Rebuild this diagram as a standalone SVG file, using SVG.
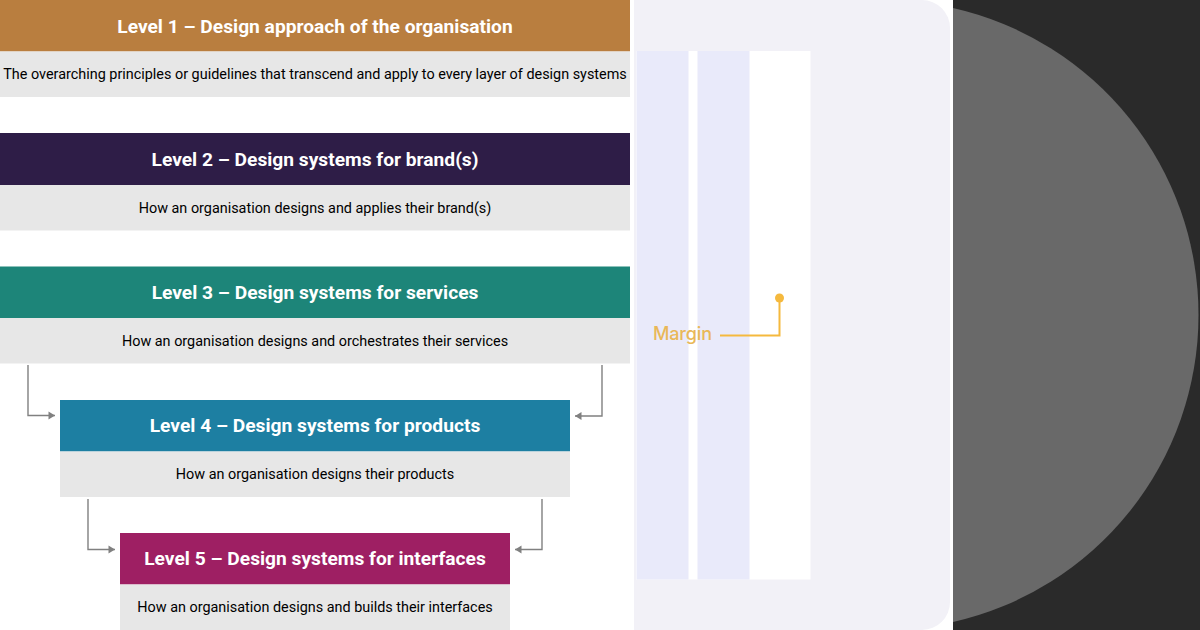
<svg xmlns="http://www.w3.org/2000/svg" width="1200" height="630" viewBox="0 0 1200 630">
<defs>
<marker id="arr" markerUnits="userSpaceOnUse" markerWidth="9" markerHeight="10" refX="7" refY="5" orient="auto"><path d="M0.500 1L7 5L0.500 9Z" fill="#808080"/></marker>
</defs>
<style>
.h{font:700 19.2px Roboto,"Liberation Sans",sans-serif;fill:#fff;text-anchor:middle}
.b{font:400 14.4px Roboto,"Liberation Sans",sans-serif;fill:#000;text-anchor:middle}
.s{fill:#e7e7e7}
.c{fill:none;stroke:#808080;stroke-width:1.4;marker-end:url(#arr)}
</style>
<rect width="1200" height="630" fill="#fff"/>
<g id="backdrop">
<rect x="953" y="0" width="247" height="630" fill="#2a2a2a"/>
<path d="M953 8A314.700 314.700 0 0 1 953 622Z" fill="#696969"/>
<path d="M634 0H922A28 28 0 0 1 950 28V602A28 28 0 0 1 922 630H634Z" fill="#f2f1f7"/>
<rect x="636" y="51" width="174.500" height="528.500" fill="#fff"/>
<rect x="636.500" y="51" width="52" height="528.500" fill="#e9eafa"/>
<rect x="697.500" y="51" width="52" height="528.500" fill="#e9eafa"/>
</g>
<g id="margin-callout">
<text x="653" y="339.500" font-family="Inter,'Liberation Sans',sans-serif" font-size="18" font-weight="500" letter-spacing="-0.15" fill="#e9b858">Margin</text>
<path d="M720 335.500H779.500V298" fill="none" stroke="#f5b93e" stroke-width="2"/>
<circle cx="779.500" cy="298" r="4.500" fill="#f5b93e"/>
</g>
<g id="connectors">
<path class="c" d="M28 365V415.500H55"/>
<path class="c" d="M602 365V416H575"/>
<path class="c" d="M88 499V549.500H115"/>
<path class="c" d="M542 499V549.500H515"/>
</g>
<g id="level-1">
<rect x="0" y="0" width="630" height="51.500" fill="#b97e3f"/>
<rect class="s" x="0" y="51.500" width="630" height="45.500"/>
<text class="h" x="315" y="32.500">Level 1 – Design approach of the organisation</text>
<text class="b" x="315" y="79">The overarching principles or guidelines that transcend and apply to every layer of design systems</text>
</g>
<g id="level-2">
<rect x="0" y="133" width="630" height="52" fill="#2e1d47"/>
<rect class="s" x="0" y="185" width="630" height="45.500"/>
<text class="h" x="315" y="165.500">Level 2 – Design systems for brand(s)</text>
<text class="b" x="315" y="212.500">How an organisation designs and applies their brand(s)</text>
</g>
<g id="level-3">
<rect x="0" y="266.500" width="630" height="51.500" fill="#1d8579"/>
<rect class="s" x="0" y="318" width="630" height="45.500"/>
<text class="h" x="315" y="298.500">Level 3 – Design systems for services</text>
<text class="b" x="315" y="345.500">How an organisation designs and orchestrates their services</text>
</g>
<g id="level-4">
<rect x="60" y="400" width="510" height="51.500" fill="#1d7fa2"/>
<rect class="s" x="60" y="451.500" width="510" height="45.500"/>
<text class="h" x="315" y="432">Level 4 – Design systems for products</text>
<text class="b" x="315" y="479">How an organisation designs their products</text>
</g>
<g id="level-5">
<rect x="120" y="533" width="390" height="51.500" fill="#9e1f63"/>
<rect class="s" x="120" y="584.500" width="390" height="45.500"/>
<text class="h" x="315" y="565">Level 5 – Design systems for interfaces</text>
<text class="b" x="315" y="612">How an organisation designs and builds their interfaces</text>
</g>
</svg>
